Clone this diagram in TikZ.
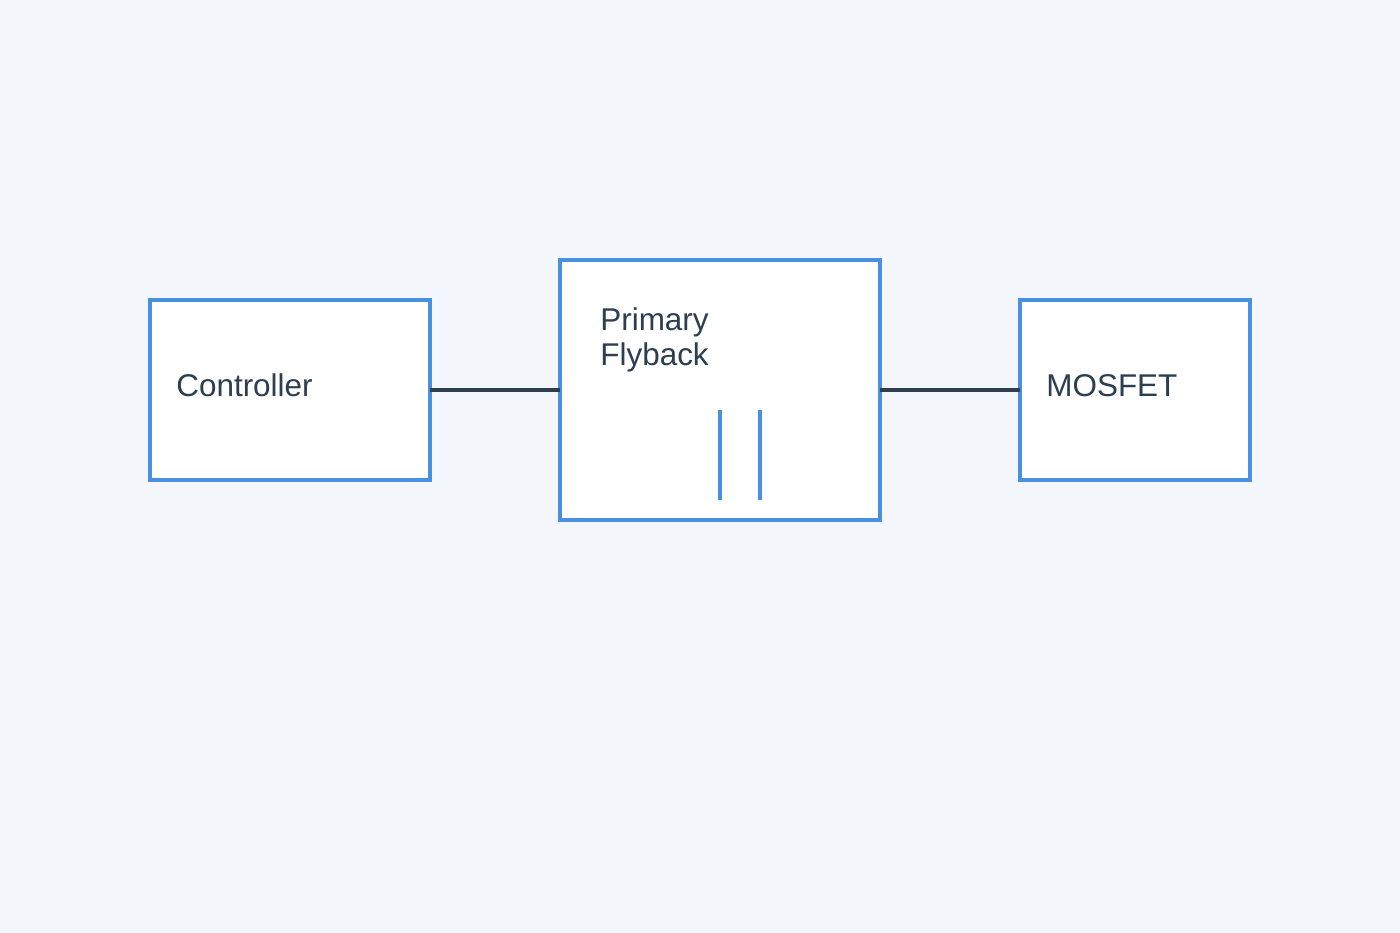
\documentclass[tikz,border=0pt]{standalone}
\usepackage{fontspec}
\setmainfont{Liberation Sans}
\usepackage{xcolor}
\usetikzlibrary{positioning}
\definecolor{pagebg}{HTML}{F3F7FC}
\definecolor{boxblue}{HTML}{4A90E2}
\definecolor{inkdark}{HTML}{2C3E50}

\begin{document}
\begin{tikzpicture}[
			x=0.02cm, y=-0.02cm,
			block/.style = {draw=boxblue, fill=white, line width=1.8pt, inner sep=0pt, outer sep=0pt},
			label/.style = {text=inkdark, font=\fontsize{17.9}{19.8}\selectfont, inner sep=0pt, anchor=base west, align=left},
			wire/.style = {draw=inkdark, line width=2.6pt},
			plate/.style = {draw=boxblue, line width=2.6pt}
			]
			\fill[pagebg] (0,0) rectangle (1400,933);
			\useasboundingbox (0,0) rectangle (1400,933);
			
			\node[block, minimum width=5.6cm, minimum height=3.6cm] (ctrl) at (290,390) {};
			\node[block, minimum width=6.4cm, minimum height=5.2cm] (pri) at (720,390) {};
			\node[block, minimum width=4.6cm, minimum height=3.6cm] (fet) at (1135,390) {};
			
			\node[label] (ctrltxt) at (176,396) {Controller};
			\node[label] (pritxt) at (600,365) {Primary\\Flyback};
			\node[label] (fettxt) at (1046,396) {MOSFET};
			
			% winding marks
			\draw[plate] (720,410) -- (720,500);
			\draw[plate] (760,410) -- (760,500);
			
			\draw[wire] (ctrl.east) -- (pri.west);
			\draw[wire] (pri.east) -- (fet.west);
		\end{tikzpicture}
\end{document}
